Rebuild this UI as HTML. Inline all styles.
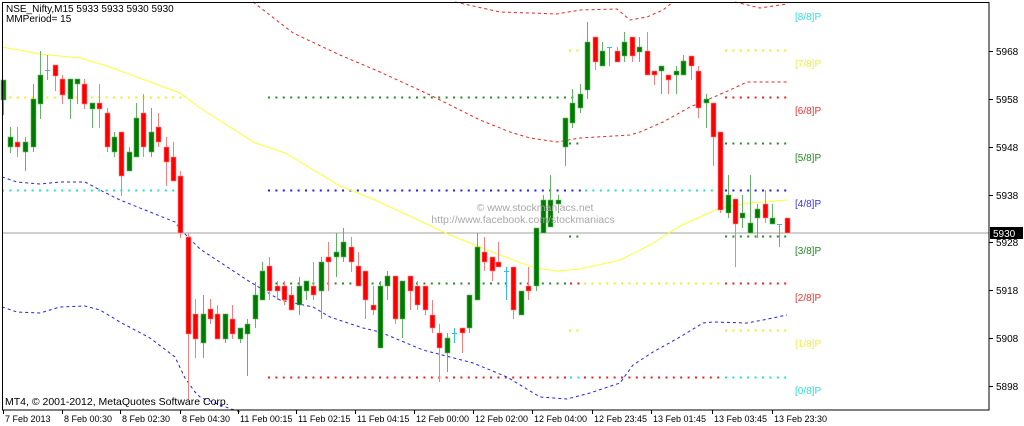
<!DOCTYPE html>
<html><head><meta charset="utf-8"><style>
body{margin:0;background:#fff;}
svg{display:block;font-family:"Liberation Sans",sans-serif;}
</style></head><body>
<svg id="s" width="1024" height="426" xmlns="http://www.w3.org/2000/svg">
<rect x="0" y="0" width="1024" height="426" fill="#fff"/>
<g id="lv"></g>
<line x1="2" y1="233" x2="989" y2="233" stroke="#a0a0a0" stroke-width="1"/>
<polyline fill="none" stroke="#ffff33" stroke-width="1" points="2,47 40,54 80,58 110,67 150,82 180,93 200,108 255,143 285,153 340,186 375,200 450,235 500,255 535,268 557,271 580,269 620,260 650,245 680,226 720,208 750,203 787,200"/>
<polyline fill="none" stroke="#2222ee" stroke-width="1" stroke-dasharray="3 3" points="2,177 17,182 40,184 60,182 85,182 100,190 120,200 150,212 175,222 180,229 200,249 247,280 280,300 313,307 330,317 363,328 380,332 423,350 473,363 507,377 540,397 567,399 590,393 620,383 633,365 653,352 680,337 703,323 713,322 747,323 763,320 787,315"/>
<polyline fill="none" stroke="#2222ee" stroke-width="1" stroke-dasharray="3 3" points="2,307 17,312 40,313 60,307 85,306 100,310 120,322 150,338 175,357 185,378 195,392 200,397 220,405 240,412"/>
<polyline fill="none" stroke="#ee2222" stroke-width="1" stroke-dasharray="3 3" points="253,2 293,33 340,55 380,72 430,95 480,120 510,132 530,138 557,142 580,138 630,135 640,132 663,122 690,107 707,100 730,90 747,82 787,82"/>
<polyline fill="none" stroke="#ee2222" stroke-width="1" stroke-dasharray="3 3" points="455,2 500,12 530,13 557,14 580,10 617,9 630,20 647,17 663,10 673,2"/>
<polyline fill="none" stroke="#ee2222" stroke-width="1" stroke-dasharray="3 3" points="735,2 760,8 787,4"/>
<g id="cd"></g>
<rect x="2.5" y="2.5" width="986.5" height="407.5" fill="none" stroke="#000" stroke-width="1"/>
<g font-size="10" fill="#000">
<text x="6" y="12">NSE_Nifty,M15  5933 5933 5930 5930</text>
<text x="6" y="22">MMPeriod= 15</text>
<text x="5" y="405" font-size="10.5">MT4, © 2001-2012, MetaQuotes Software Corp.</text>
</g>
<g font-size="10.5" fill="#a8a8a8" text-anchor="middle">
<text x="535" y="211">© www.stockmaniacs.net</text>
<text x="523" y="223">http://www.facebook.com/stockmaniacs</text>
</g>
<g font-size="10">
<text x="795" y="20" fill="#33dddd">[8/8]P</text>
<text x="795" y="67" fill="#eeee44">[7/8]P</text>
<text x="795" y="114" fill="#ee3333">[6/8]P</text>
<text x="795" y="161" fill="#228822">[5/8]P</text>
<text x="795" y="207" fill="#3333ee">[4/8]P</text>
<text x="795" y="254" fill="#228822">[3/8]P</text>
<text x="795" y="301" fill="#ee3333">[2/8]P</text>
<text x="795" y="347" fill="#eeee44">[1/8]P</text>
<text x="795" y="394" fill="#33dddd">[0/8]P</text>
</g>
<g font-size="10" fill="#000" id="ax"></g>
<rect x="990" y="227" width="33" height="12" fill="#000"/>
<text x="993" y="237" font-size="10" fill="#fff">5930</text>
</svg>
<script>
var NS="http://www.w3.org/2000/svg";
function el(p,t,a){var e=document.createElementNS(NS,t);for(var k in a)e.setAttribute(k,a[k]);p.appendChild(e);return e;}
var C=[[3,80,100,80,115,'g'],[10,137,147,127,153,'g'],[17,142,147,127,157,'r'],[25,142,152,137,171,'g'],[33,99,147,84,152,'g'],[40,75,104,51,119,'g'],[47,70,70,55,80,'c'],[55,65,76,65,91,'r'],[62,79,95,75,104,'r'],[70,79,99,79,119,'g'],[77,79,84,79,104,'g'],[84,84,104,79,109,'r'],[92,103,109,103,128,'g'],[99,103,109,84,128,'r'],[107,113,147,108,152,'r'],[114,137,152,132,157,'g'],[121,132,176,132,196,'r'],[129,152,171,147,171,'g'],[136,118,157,103,157,'g'],[143,113,147,94,157,'r'],[151,132,152,108,157,'g'],[158,127,142,113,147,'r'],[166,147,162,137,186,'r'],[173,157,181,142,181,'r'],[180,176,233,171,238,'r'],[188,237,334,233,400,'r'],[195,314,339,299,358,'r'],[203,314,343,295,358,'g'],[210,309,319,299,324,'r'],[217,314,339,305,339,'r'],[225,314,339,314,343,'g'],[232,319,334,305,339,'r'],[240,328,339,328,343,'g'],[247,324,334,319,376,'g'],[255,295,319,282,328,'g'],[262,271,300,262,300,'g'],[269,266,291,257,300,'r'],[277,286,291,281,300,'r'],[284,286,300,281,305,'r'],[291,295,310,286,310,'r'],[299,286,305,277,315,'g'],[306,281,291,281,300,'g'],[313,286,295,262,300,'r'],[321,262,291,257,319,'g'],[328,257,262,242,291,'r'],[336,252,257,233,277,'g'],[343,242,257,228,262,'g'],[351,247,262,237,272,'r'],[358,266,286,252,286,'r'],[365,271,300,271,319,'r'],[373,305,310,286,315,'r'],[380,286,348,281,348,'g'],[387,276,286,271,300,'g'],[395,276,319,276,324,'r'],[402,281,319,281,338,'g'],[410,276,291,276,310,'r'],[417,286,305,281,310,'r'],[425,286,310,286,315,'r'],[432,315,328,300,333,'r'],[439,333,348,324,382,'r'],[447,338,353,333,372,'g'],[454,333,333,328,343,'c'],[462,328,333,328,353,'r'],[469,295,328,295,333,'g'],[477,247,300,233,300,'g'],[484,252,262,237,271,'r'],[492,257,271,257,281,'r'],[498,262,267,242,267,'r'],[506,271,271,267,300,'c'],[513,267,310,267,319,'r'],[521,291,315,291,315,'g'],[528,286,291,267,300,'r'],[536,228,286,228,291,'g'],[543,200,233,195,233,'g'],[550,200,227,175,227,'g'],[558,200,204,195,213,'g'],[565,118,147,118,166,'g'],[572,103,123,89,128,'g'],[580,94,108,84,113,'g'],[587,42,90,22,99,'g'],[595,37,62,37,70,'r'],[602,51,66,42,66,'g'],[609,47,47,47,66,'c'],[617,51,62,47,62,'r'],[624,42,56,32,62,'g'],[632,37,56,37,62,'r'],[639,47,52,37,62,'g'],[647,51,75,32,75,'r'],[654,71,75,71,85,'r'],[661,66,71,66,94,'g'],[668,75,80,75,94,'r'],[676,71,75,66,94,'g'],[683,61,75,55,75,'g'],[691,56,66,56,80,'r'],[698,71,108,66,118,'r'],[706,99,103,94,128,'g'],[713,103,137,103,166,'r'],[720,132,210,132,213,'r'],[728,195,213,175,218,'g'],[735,199,224,199,267,'r'],[742,213,218,195,228,'g'],[750,223,233,175,233,'g'],[757,209,218,204,238,'g'],[765,204,218,190,223,'r'],[772,218,224,204,224,'g'],[779,224,224,224,247,'c'],[787,218,233,218,233,'r']];
var cd=document.getElementById('cd');
C.forEach(function(c){var x=c[0],col=c[5];
var wc=col=='r'?'#f38080':col=='g'?'#66b266':'#33bbee';
el(cd,'line',{x1:x+.5,x2:x+.5,y1:c[3],y2:c[4],stroke:wc,'stroke-width':1});
if(col=='c'){el(cd,'line',{x1:x-2,x2:x+3,y1:c[1]+.5,y2:c[1]+.5,stroke:'#33bbee','stroke-width':1});}
else{var f=col=='r'?'#ff0000':'#007a00',st=col=='r'?'#f88':'#6b6';
el(cd,'rect',{x:x-2,y:c[1],width:5,height:Math.max(1,c[2]-c[1]),fill:f,stroke:st,'stroke-width':0.6});}
});
var lv=document.getElementById('lv');
function dl(x1,x2,y,c){el(lv,'line',{x1:x1,x2:x2,y1:y+.5,y2:y+.5,stroke:c,'stroke-width':2,'stroke-dasharray':'2 5.4'});}
var Y='#eeee22',G='#2a8a2a',R='#ee2222',CY='#22dddd',B='#2222ee';
dl(2,182,97,Y);dl(268,576,97,G);dl(725,790,97,R);
dl(2,182,190,CY);dl(268,582,190,B);dl(585,722,190,CY);dl(725,790,190,B);
dl(268,568,283,G);dl(570,582,283,R);dl(584,722,283,Y);dl(725,790,283,R);
dl(268,568,377,R);dl(570,582,377,CY);dl(584,722,377,R);dl(725,790,377,CY);
dl(569,582,236,G);dl(725,790,236,G);
dl(569,582,330,Y);dl(725,790,330,Y);
dl(569,582,143,G);dl(725,790,143,G);
dl(569,582,50,Y);dl(725,790,50,Y);
var ax=document.getElementById('ax');
[[5968,51],[5958,99],[5948,147],[5938,195],[5928,242],[5918,290],[5908,338],[5898,386]].forEach(function(p){
el(ax,'line',{x1:989,x2:993,y1:p[1]+.5,y2:p[1]+.5,stroke:'#000'});var t=el(ax,'text',{x:996,y:p[1]+4});t.textContent=p[0];});
[[3,'7 Feb 2013'],[62,'8 Feb 00:30'],[120,'8 Feb 02:30'],[180,'8 Feb 04:30'],[238,'11 Feb 00:15'],[296,'11 Feb 02:15'],[355,'11 Feb 04:15'],[414,'12 Feb 00:00'],[473,'12 Feb 02:00'],[532,'12 Feb 04:00'],[592,'12 Feb 23:45'],[651,'13 Feb 01:45'],[712,'13 Feb 03:45'],[772,'13 Feb 23:30']].forEach(function(p){
el(ax,'line',{x1:p[0]+.5,x2:p[0]+.5,y1:410,y2:414,stroke:'#000'});var t=el(ax,'text',{x:p[0]+2,y:422,'font-size':9});t.textContent=p[1];});
</script>
</body></html>
